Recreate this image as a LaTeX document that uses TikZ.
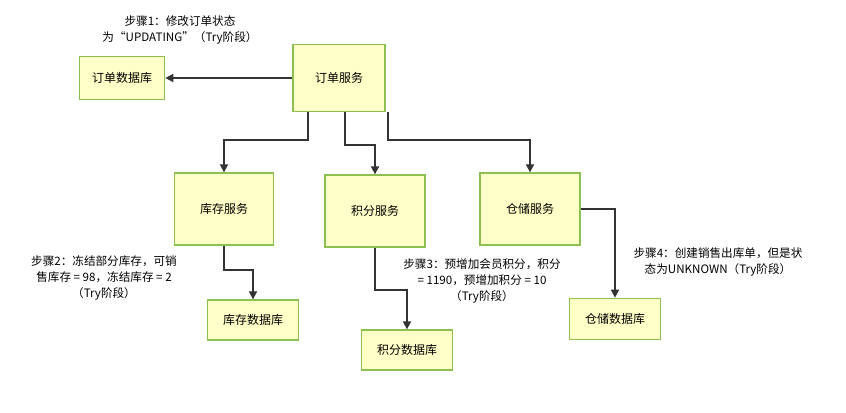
\documentclass[tikz,border=0pt]{standalone}
\usepackage{fontspec}
\setmainfont{Noto Sans CJK SC}
\usetikzlibrary{arrows.meta}
\definecolor{boxfill}{HTML}{FFFFC8}
\definecolor{boxline}{HTML}{8CC152}
\begin{document}
\begin{tikzpicture}[x=0.75pt,y=-0.75pt,
  box/.style={draw=boxline,fill=boxfill,line width=1pt,font=\fontsize{9}{11}\selectfont,inner sep=0pt},
  conn/.style={draw=black!80,line width=1.3pt,-{Triangle[length=6pt,width=6pt]}},
  lab/.style={font=\fontsize{8.7}{12}\selectfont,align=center}]
\useasboundingbox (0,0) rectangle (846,412);
\node[box,minimum width=64pt,minimum height=32pt] (odb) at (122,78) {订单数据库};
\node[box,minimum width=69pt,minimum height=50pt] (os) at (339,78) {订单服务};
\node[box,minimum width=74pt,minimum height=54pt] (ks) at (224,209) {库存服务};
\node[box,minimum width=75pt,minimum height=54pt] (js) at (375,211) {积分服务};
\node[box,minimum width=75pt,minimum height=54pt] (cs) at (530,209) {仓储服务};
\node[box,minimum width=68pt,minimum height=30pt] (kdb) at (253,320) {库存数据库};
\node[box,minimum width=68pt,minimum height=30pt] (jdb) at (407,350) {积分数据库};
\node[box,minimum width=68pt,minimum height=31pt] (cdb) at (615,319) {仓储数据库};
\draw[conn] (os) -- (odb);
\draw[conn] (os.south -| 308,0) |- (224,140) -- (ks);
\draw[conn] (os.south -| 345,0) |- (375,145) -- (js);
\draw[conn] (os.south -| 388,0) |- (530,140) -- (cs);
\draw[conn] (ks.south) |- (253,270) -- (kdb);
\draw[conn] (js.south) |- (407,290) -- (jdb);
\draw[conn] (cs.east) -| (cdb);
\node[lab] (l1) at (180,30) {步骤1：修改订单状态\\为“UPDATING”（Try阶段）};
\node[lab] (l2) at (104,278) {步骤2：冻结部分库存，可销\\售库存 = 98，冻结库存 = 2\\（Try阶段）};
\node[lab] (l3) at (482,281) {步骤3：预增加会员积分，积分\\= 1190，预增加积分 = 10\\（Try阶段）};
\node[lab] (l4) at (718,262) {步骤4：创建销售出库单，但是状\\态为UNKNOWN（Try阶段）};
\end{tikzpicture}
\end{document}
